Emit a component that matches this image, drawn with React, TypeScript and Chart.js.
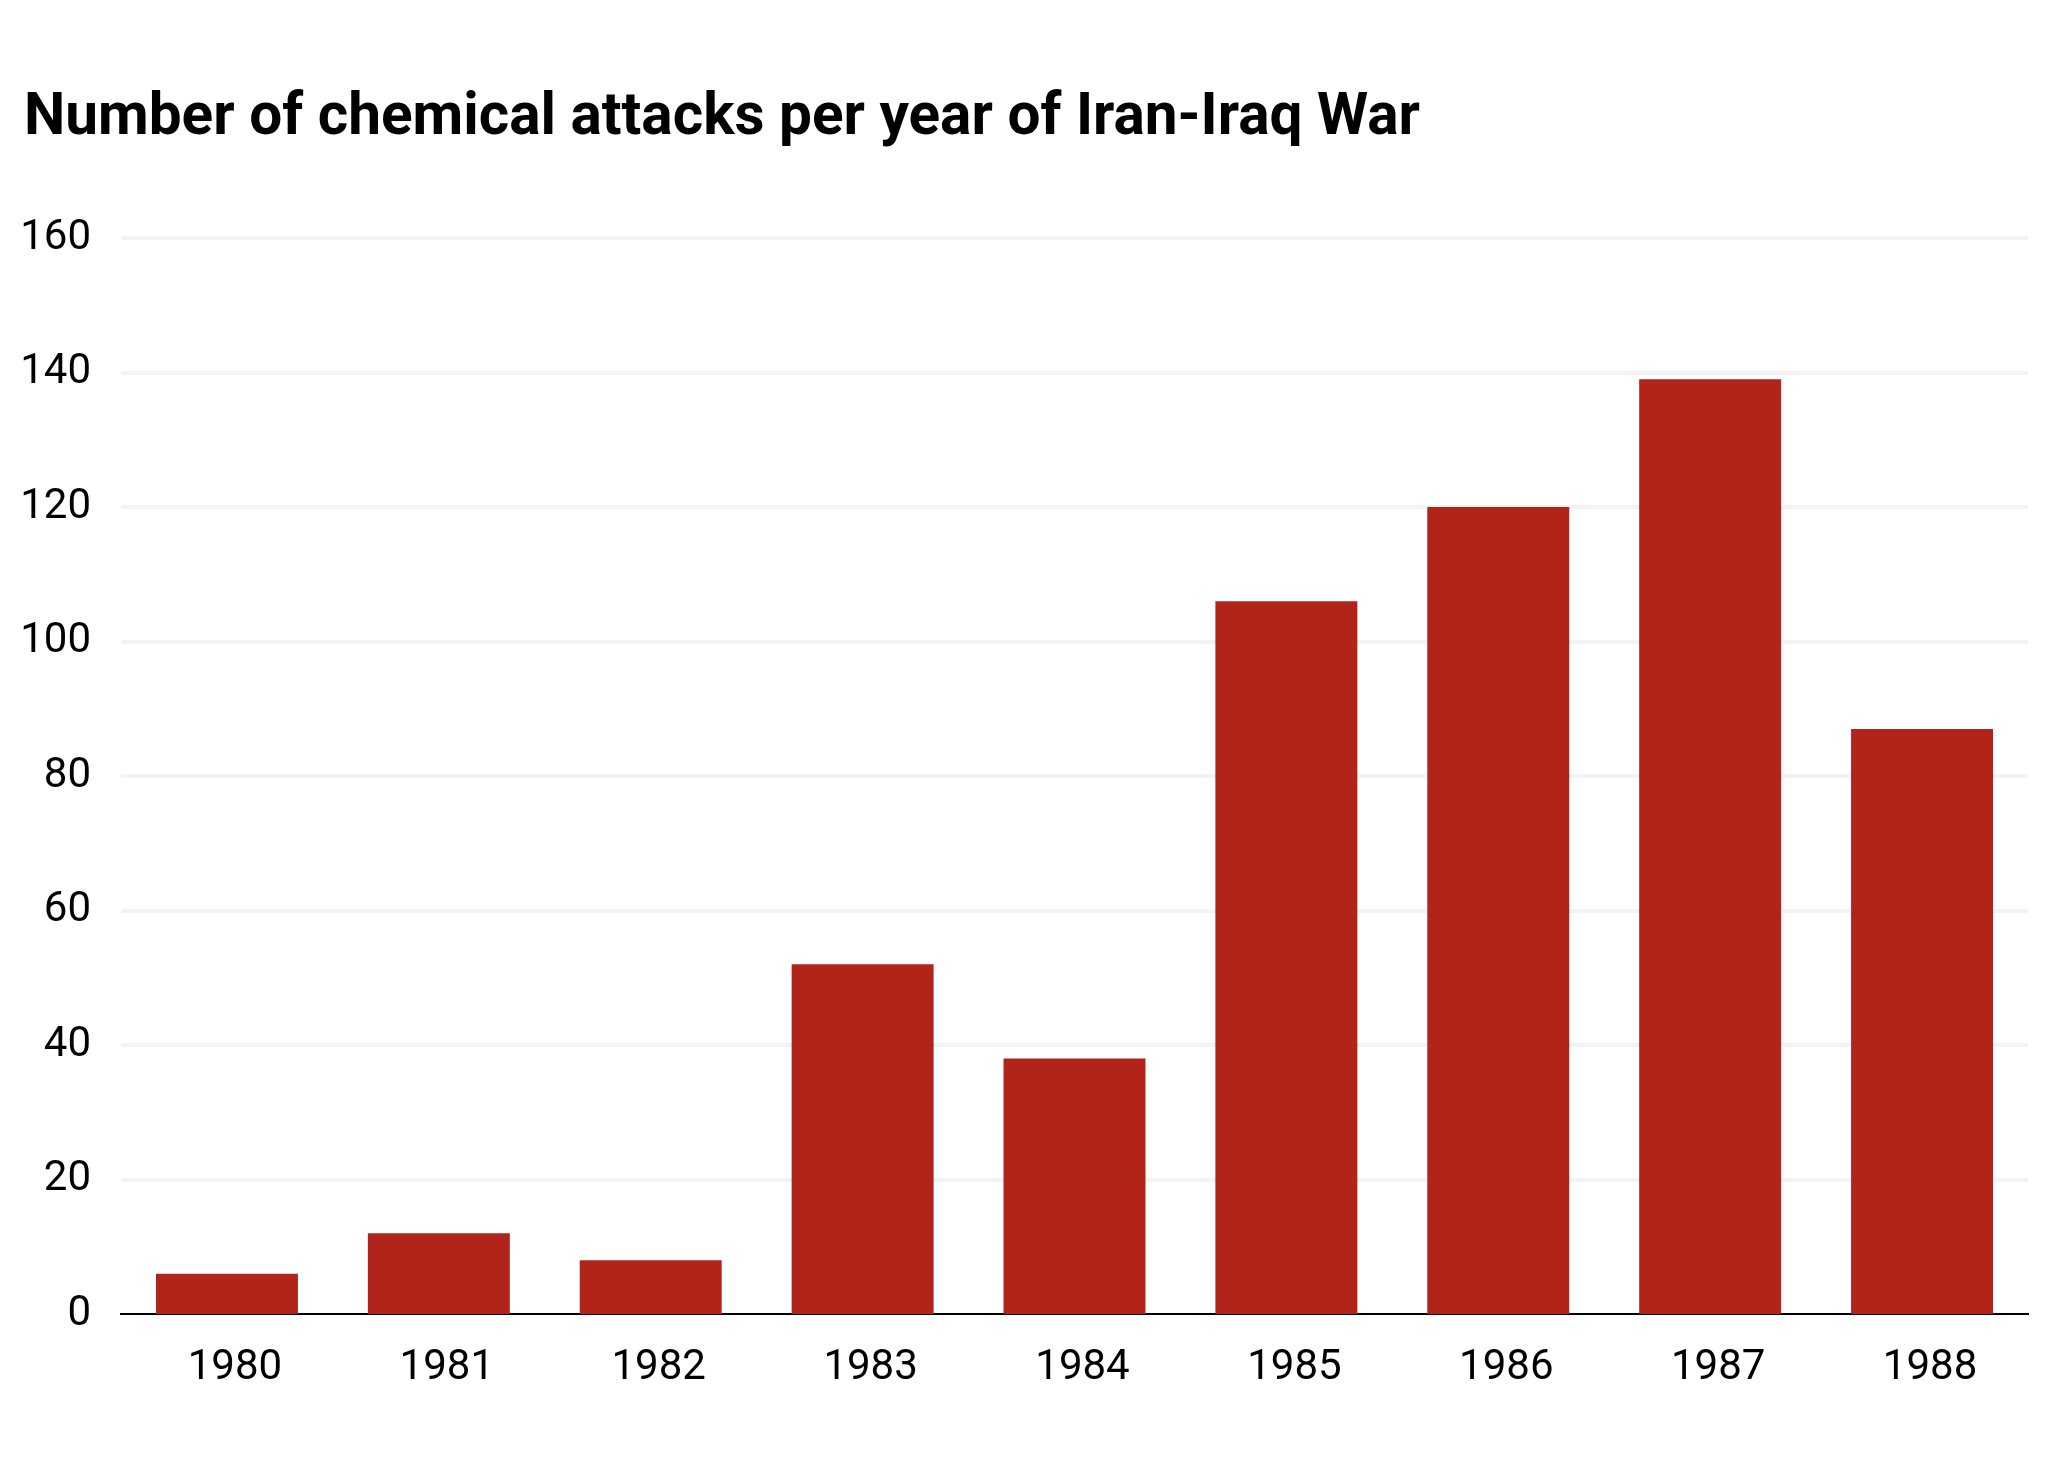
import React, { useEffect, useRef } from "react";
import { Chart, registerables } from "chart.js";

Chart.register(...registerables);

const TITLE = "Number of chemical attacks per year of Iran-Iraq War";
const YEARS = ["1980", "1981", "1982", "1983", "1984", "1985", "1986", "1987", "1988"];
const ATTACKS = [6, 12, 8, 52, 38, 106, 120, 139, 87];
const Y_MIN = 0;
const Y_MAX = 160;
const Y_STEP = 20;

const BAR_COLOR = "#b2231a";
const FONT = "Roboto, 'Noto Sans', sans-serif";

export default function App() {
  const ref = useRef<HTMLCanvasElement | null>(null);

  useEffect(() => {
    document.body.style.margin = "0";
    const canvas = ref.current!;
    const titlePlugin = {
      id: "customTitle",
      afterDraw(chart: any) {
        const ctx = chart.ctx;
        ctx.save();
        ctx.font = `bold 58.5px ${FONT}`;
        ctx.fillStyle = "#000";
        ctx.textBaseline = "alphabetic";
        ctx.textAlign = "left";
        ctx.fillText(TITLE, 24, 134);
        ctx.restore();
      },
    };
    const chart = new Chart(canvas, {
      type: "bar",
      data: {
        labels: YEARS,
        datasets: [
          {
            data: ATTACKS,
            backgroundColor: BAR_COLOR,
            borderWidth: 0,
            categoryPercentage: 0.67,
            barPercentage: 1,
          },
        ],
      },
      options: {
        animation: false,
        responsive: false,
        maintainAspectRatio: false,
        layout: { padding: { top: 238, left: 0, right: 20, bottom: 0 } },
        plugins: {
          legend: { display: false },
          title: { display: false },
          tooltip: { enabled: false },
        },
        scales: {
          x: {
            grid: { display: false, drawTicks: false },
            border: { display: true, color: "#000", width: 2 },
            ticks: {
              color: "#000",
              font: { family: FONT, size: 42 },
              padding: 29,
              labelOffset: 8,
              maxRotation: 0,
            },
            afterFit(scale: any) {
              scale.height = 1463 - 1314;
            },
          },
          y: {
            min: Y_MIN,
            max: Y_MAX,
            grid: {
              color: "#f3f3f3",
              lineWidth: (c: any) => (c.tick && c.tick.value === 0 ? 0 : 4),
              drawTicks: false,
            },
            border: { display: false },
            ticks: {
              stepSize: Y_STEP,
              color: "#000",
              font: { family: FONT, size: 42 },
              padding: 30,
            },
            afterFit(scale: any) {
              scale.width = 121;
            },
          },
        },
      },
      plugins: [titlePlugin],
    });
    return () => chart.destroy();
  }, []);

  return (
    <div style={{ position: "absolute", left: 0, top: 0, width: 2048, height: 1463, background: "#fff" }}>
      <canvas ref={ref} width={2048} height={1463} style={{ width: 2048, height: 1463 }} />
    </div>
  );
}
